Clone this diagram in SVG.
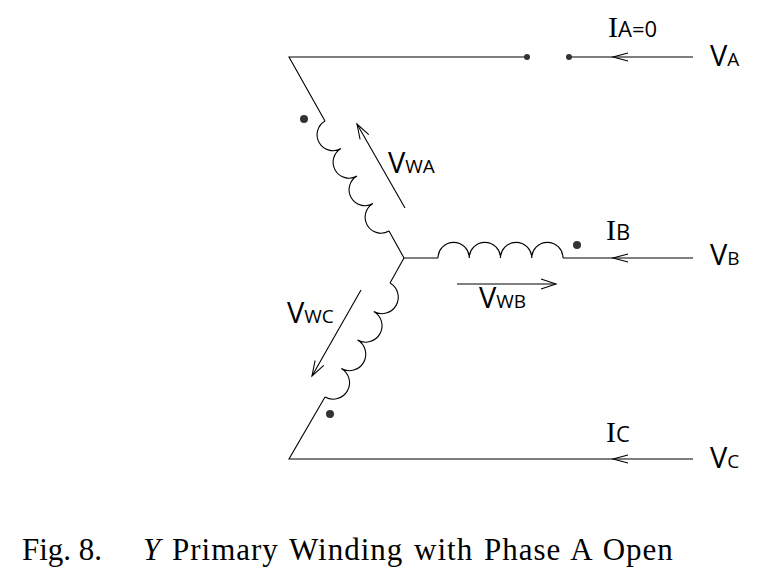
<svg xmlns="http://www.w3.org/2000/svg" width="781" height="588" viewBox="0 0 781 588">
<style>
.w{stroke:#000;stroke-width:1.1;fill:none}
.d{fill:#333}
.s{font-family:"Open Sans","Liberation Sans",sans-serif;fill:#000}
.big{font-size:29px}
.sub{font-size:19px}
.ti{font-family:"Liberation Serif",serif;font-size:30px}
.cap{font-family:"Liberation Serif",serif;font-size:31px;fill:#000}
</style>
<defs>
<marker id="ar" markerUnits="userSpaceOnUse" markerWidth="20" markerHeight="12" viewBox="-16 -6 18 12" refX="0" refY="0" orient="auto">
<path d="M-15,-5 L0,0 L-15,5" stroke="#000" stroke-width="1.1" fill="none"/>
</marker>
</defs>
<rect width="781" height="588" fill="#fff"/>
<g id="connectors">
<path class="w" d="M527,57 H289 L325,121"/>
<path class="w" d="M389,231 L404,258 L438,258"/>
<path class="w" d="M404,258 L390,283"/>
<path class="w" d="M325,397 L289,459 H693"/>
<path class="w" d="M569,57 H693"/>
<path class="w" d="M563,258 H693"/>
<path class="w" d="M628,53 L613,57 L628,61"/>
<path class="w" d="M628,254 L613,258 L628,262"/>
<path class="w" d="M628,455 L613,459 L628,463"/>
<path class="w" d="M405,208 L357,124" marker-end="url(#ar)"/>
<path class="w" d="M457,284 L556,284" marker-end="url(#ar)"/>
<path class="w" d="M361,290 L312,376" marker-end="url(#ar)"/>
</g>
<g id="switch">
<circle class="d" cx="527" cy="57" r="3"/>
<circle class="d" cx="569" cy="57" r="3"/>
</g>
<g id="coilA">
<path class="w" d="M325,121 A15,15 0 0 0 341,148.5 A15,15 0 0 0 357,176 A15,15 0 0 0 373,203.5 A15,15 0 0 0 389,231"/>
<circle class="d" cx="304" cy="119" r="4"/>
</g>
<g id="coilB">
<path class="w" d="M438,258 A15,15 0 0 1 469.25,258 A15,15 0 0 1 500.5,258 A15,15 0 0 1 531.75,258 A15,15 0 0 1 563,258"/>
<circle class="d" cx="577" cy="245" r="4"/>
</g>
<g id="coilC">
<path class="w" d="M390,283 A15,15 0 0 1 373.75,311.5 A15,15 0 0 1 357.5,340 A15,15 0 0 1 341.25,368.5 A15,15 0 0 1 325,397"/>
<circle class="d" cx="330" cy="414" r="4"/>
</g>
<g id="labels">
<text x="388" y="173" class="s"><tspan class="big">V</tspan><tspan class="sub">WA</tspan></text>
<text x="479" y="308" class="s"><tspan class="big">V</tspan><tspan class="sub">WB</tspan></text>
<text x="287" y="323" class="s"><tspan class="big">V</tspan><tspan class="sub">WC</tspan></text>
<text x="608" y="37" class="s"><tspan class="ti">I</tspan><tspan font-size="22">A=0</tspan></text>
<text x="606" y="240" class="s"><tspan class="ti">I</tspan><tspan font-size="22">B</tspan></text>
<text x="606" y="442" class="s"><tspan class="ti">I</tspan><tspan font-size="22">C</tspan></text>
<text x="710" y="66" class="s"><tspan class="big">V</tspan><tspan class="sub">A</tspan></text>
<text x="710" y="265" class="s"><tspan class="big">V</tspan><tspan class="sub">B</tspan></text>
<text x="710" y="468" class="s"><tspan class="big">V</tspan><tspan class="sub">C</tspan></text>
</g>
<text x="22" y="560" class="cap">Fig. 8.<tspan x="143" font-style="italic" letter-spacing="1" word-spacing="2">Y</tspan><tspan letter-spacing="1" word-spacing="2"> Primary Winding with Phase A Open</tspan></text>
</svg>
